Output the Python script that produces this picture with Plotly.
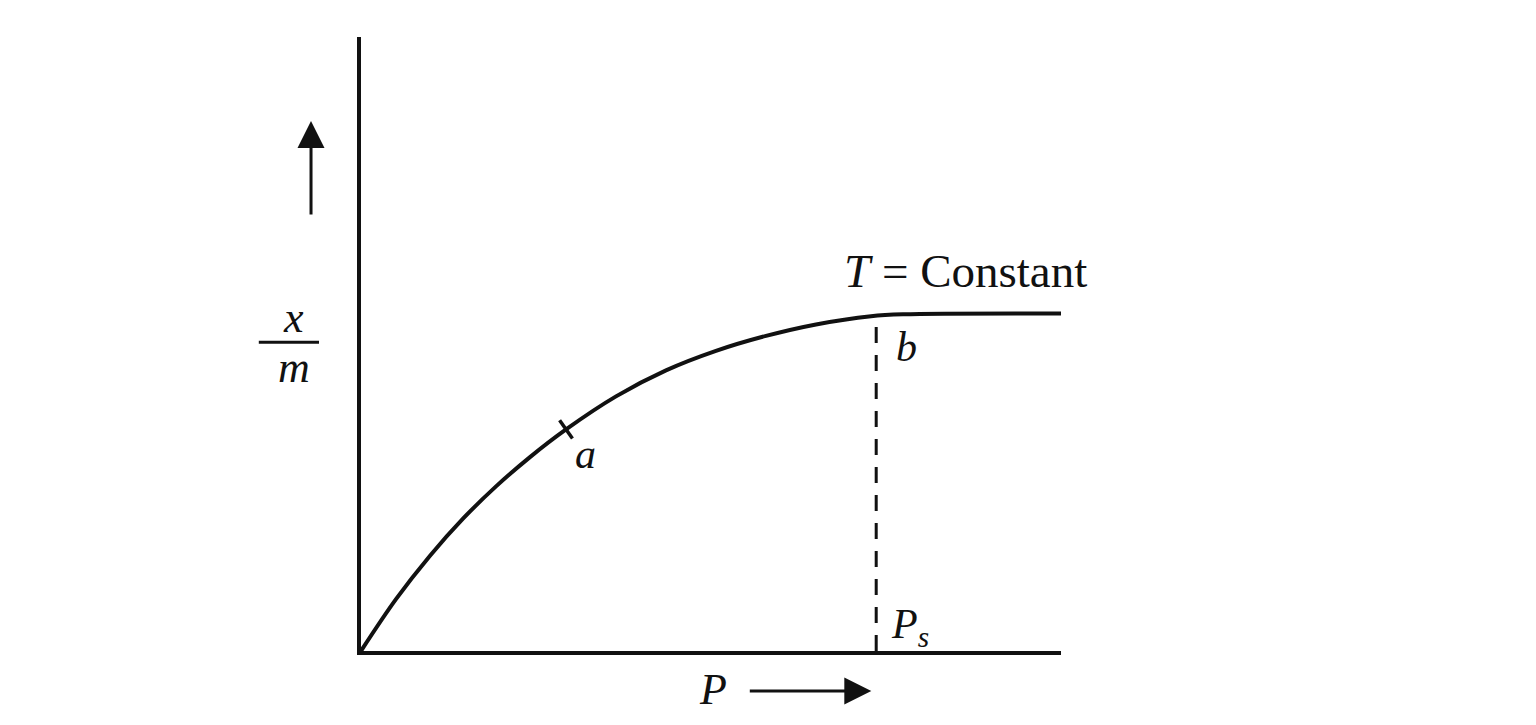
import plotly.graph_objects as go

# adsorption isotherm (arbitrary units, axes run 0..10)
pressure = [0.0, 0.50, 0.986, 1.457, 1.929, 2.414, 2.929, 3.643, 4.357,
            5.071, 5.786, 6.500, 7.286, 7.743, 10.0]
x_over_m = [0.0, 0.844, 1.552, 2.155, 2.681, 3.158, 3.609, 4.147, 4.570,
            4.888, 5.132, 5.319, 5.453, 5.484, 5.497]

p_sat = 7.36          # saturation pressure, point b
x_sat = 5.46
point_a = (2.929, 3.609)

serif = "Liberation Serif"
ink = "#111111"

fig = go.Figure()

fig.add_trace(go.Scatter(x=pressure, y=x_over_m, mode="lines",
                         line=dict(color=ink, width=4, shape="spline", smoothing=1.0),
                         hoverinfo="skip"))

# dashed drop line from b to P_s
fig.add_trace(go.Scatter(x=[p_sat, p_sat], y=[0, x_sat], mode="lines",
                         line=dict(color=ink, width=3, dash="16px,12px"),
                         hoverinfo="skip"))

# small tick across the curve at a
fig.add_trace(go.Scatter(x=[point_a[0]], y=[point_a[1]], mode="markers",
                         marker=dict(symbol="line-ns", size=16, angle=-35,
                                     line=dict(color=ink, width=3.5)),
                         hoverinfo="skip"))

# labels inside the axes
ann = [
    dict(x=8.63, y=6.19, text="<i>T</i> = Constant", font=dict(size=47)),
    dict(x=7.79, y=4.95, text="<i>b</i>", font=dict(size=42)),
    dict(x=3.21, y=3.21, text="<i>a</i>", font=dict(size=42)),
    dict(x=7.84, y=0.39, text="<i>P</i><sub><i>s</i></sub>", font=dict(size=42)),
]
for a in ann:
    a.update(xref="x", yref="y")

# labels outside the axes (paper coords)
ann += [
    dict(x=0.503, y=-0.062, text="<i>P</i>", font=dict(size=44)),
    dict(x=-0.096, y=0.543, text="<i>x</i>", font=dict(size=44)),
    dict(x=-0.096, y=0.462, text="<i>m</i>", font=dict(size=44)),
]
for a in ann:
    a.update(showarrow=False, xanchor="center", yanchor="middle")
    a["font"].update(family=serif, color=ink)
for a in ann[4:]:
    a.update(xref="paper", yref="paper")

# direction arrows
ann += [
    dict(x=-0.0714, y=0.863, xref="paper", yref="paper", ax=0, ay=95, text="",
         showarrow=True, arrowhead=2, arrowsize=1.8, arrowwidth=3, arrowcolor=ink),
    dict(x=0.729, y=-0.065, xref="paper", yref="paper", ax=-123, ay=0, text="",
         showarrow=True, arrowhead=2, arrowsize=1.8, arrowwidth=3, arrowcolor=ink),
]

fig.update_layout(
    width=1536, height=725,
    margin=dict(l=353, r=483, t=29, b=82),
    paper_bgcolor="white", plot_bgcolor="white",
    showlegend=False,
    annotations=ann,
    shapes=[dict(type="line", xref="paper", yref="paper",
                 x0=-0.146, x1=-0.060, y0=0.503, y1=0.503,
                 line=dict(color=ink, width=3))],
)
fig.update_xaxes(range=[0, 10], showline=True, linewidth=4, linecolor=ink,
                 showgrid=False, zeroline=False, showticklabels=False, ticks="")
fig.update_yaxes(range=[0, 10], showline=True, linewidth=4, linecolor=ink,
                 showgrid=False, zeroline=False, showticklabels=False, ticks="")

fig.write_html("out.html")
